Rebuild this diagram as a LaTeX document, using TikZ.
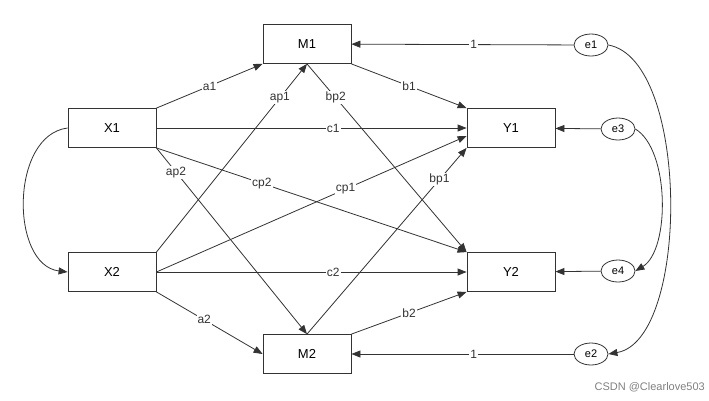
\documentclass[tikz,border=0pt]{standalone}
\usetikzlibrary{arrows.meta,shapes.geometric}
\usepackage{fontspec}
\setmainfont{Liberation Sans}
\begin{document}
\begin{tikzpicture}[x=1pt,y=-1pt,
 box/.style={draw=black!80,thick,minimum width=88pt,minimum height=39pt,font=\fontsize{13}{15}\selectfont},
 err/.style={draw=black!80,thick,ellipse,minimum width=34pt,minimum height=22pt,inner sep=0pt,font=\fontsize{11}{13}\selectfont},
 arr/.style={-{Triangle[length=9pt,width=7pt]},black!80,thick},
 lab/.style={fill=white,inner sep=1pt,font=\fontsize{12}{14}\selectfont,text=black!80}]
\useasboundingbox (0,0) rectangle (709,400);
\node[box] (M1) at (307,44) {M1};
\node[box] (X1) at (112,128) {X1};
\node[box] (Y1) at (511,128) {Y1};
\node[box] (X2) at (112,272) {X2};
\node[box] (Y2) at (511,272) {Y2};
\node[box] (M2) at (307,354) {M2};
\node[err] (e1) at (591,45) {e1};
\node[err] (e3) at (618,129) {e3};
\node[err] (e4) at (618,271) {e4};
\node[err] (e2) at (591,354) {e2};
\draw[arr] (X1.north east) -- node[lab]{a1} (M1.south west);
\draw[arr] (X1) -- node[lab,pos=0.57]{c1} (Y1);
\draw[arr] (X1.south east) -- node[lab,pos=0.34]{cp2} (Y2.north west);
\draw[arr] (X1.south east) -- node[lab,pos=0.13]{ap2} (M2.north);
\draw[arr] (X2.north east) -- node[lab,pos=0.82]{ap1} (M1.south);
\draw[arr] (X2.east) -- node[lab,pos=0.61]{cp1} ([yshift=-8pt]Y1.west);
\draw[arr] (X2) -- node[lab,pos=0.57]{c2} (Y2);
\draw[arr] (X2.south east) -- node[lab,pos=0.45]{a2} (M2.west);
\draw[arr] (M1.south east) -- node[lab]{b1} (Y1.north west);
\draw[arr] (M1.south) -- node[lab,pos=0.18]{bp2} (Y2.north west);
\draw[arr] (M2.north) -- node[lab,pos=0.83]{bp1} (Y1.south west);
\draw[arr] (M2.north east) -- node[lab]{b2} (Y2.south west);
\draw[arr] (e1) -- node[lab,pos=0.45]{1} (M1);
\draw[arr] (e3) -- (Y1);
\draw[arr] (e4) -- (Y2);
\draw[arr] (e2) -- node[lab,pos=0.45]{1} (M2);
\draw[arr] (X1.west) .. controls (10,135) and (10,265) .. (X2.west);
\draw[arr] (e1.east) .. controls (690,60) and (690,340) .. (e2.east);
\draw[arr] (e3.east) .. controls (670,150) and (670,250) .. (e4.east);
\node[anchor=south east,text=black!50,font=\fontsize{11}{13}\selectfont,inner sep=2pt] (wm) at (707,394) {CSDN @Clearlove503};
\end{tikzpicture}
\end{document}
